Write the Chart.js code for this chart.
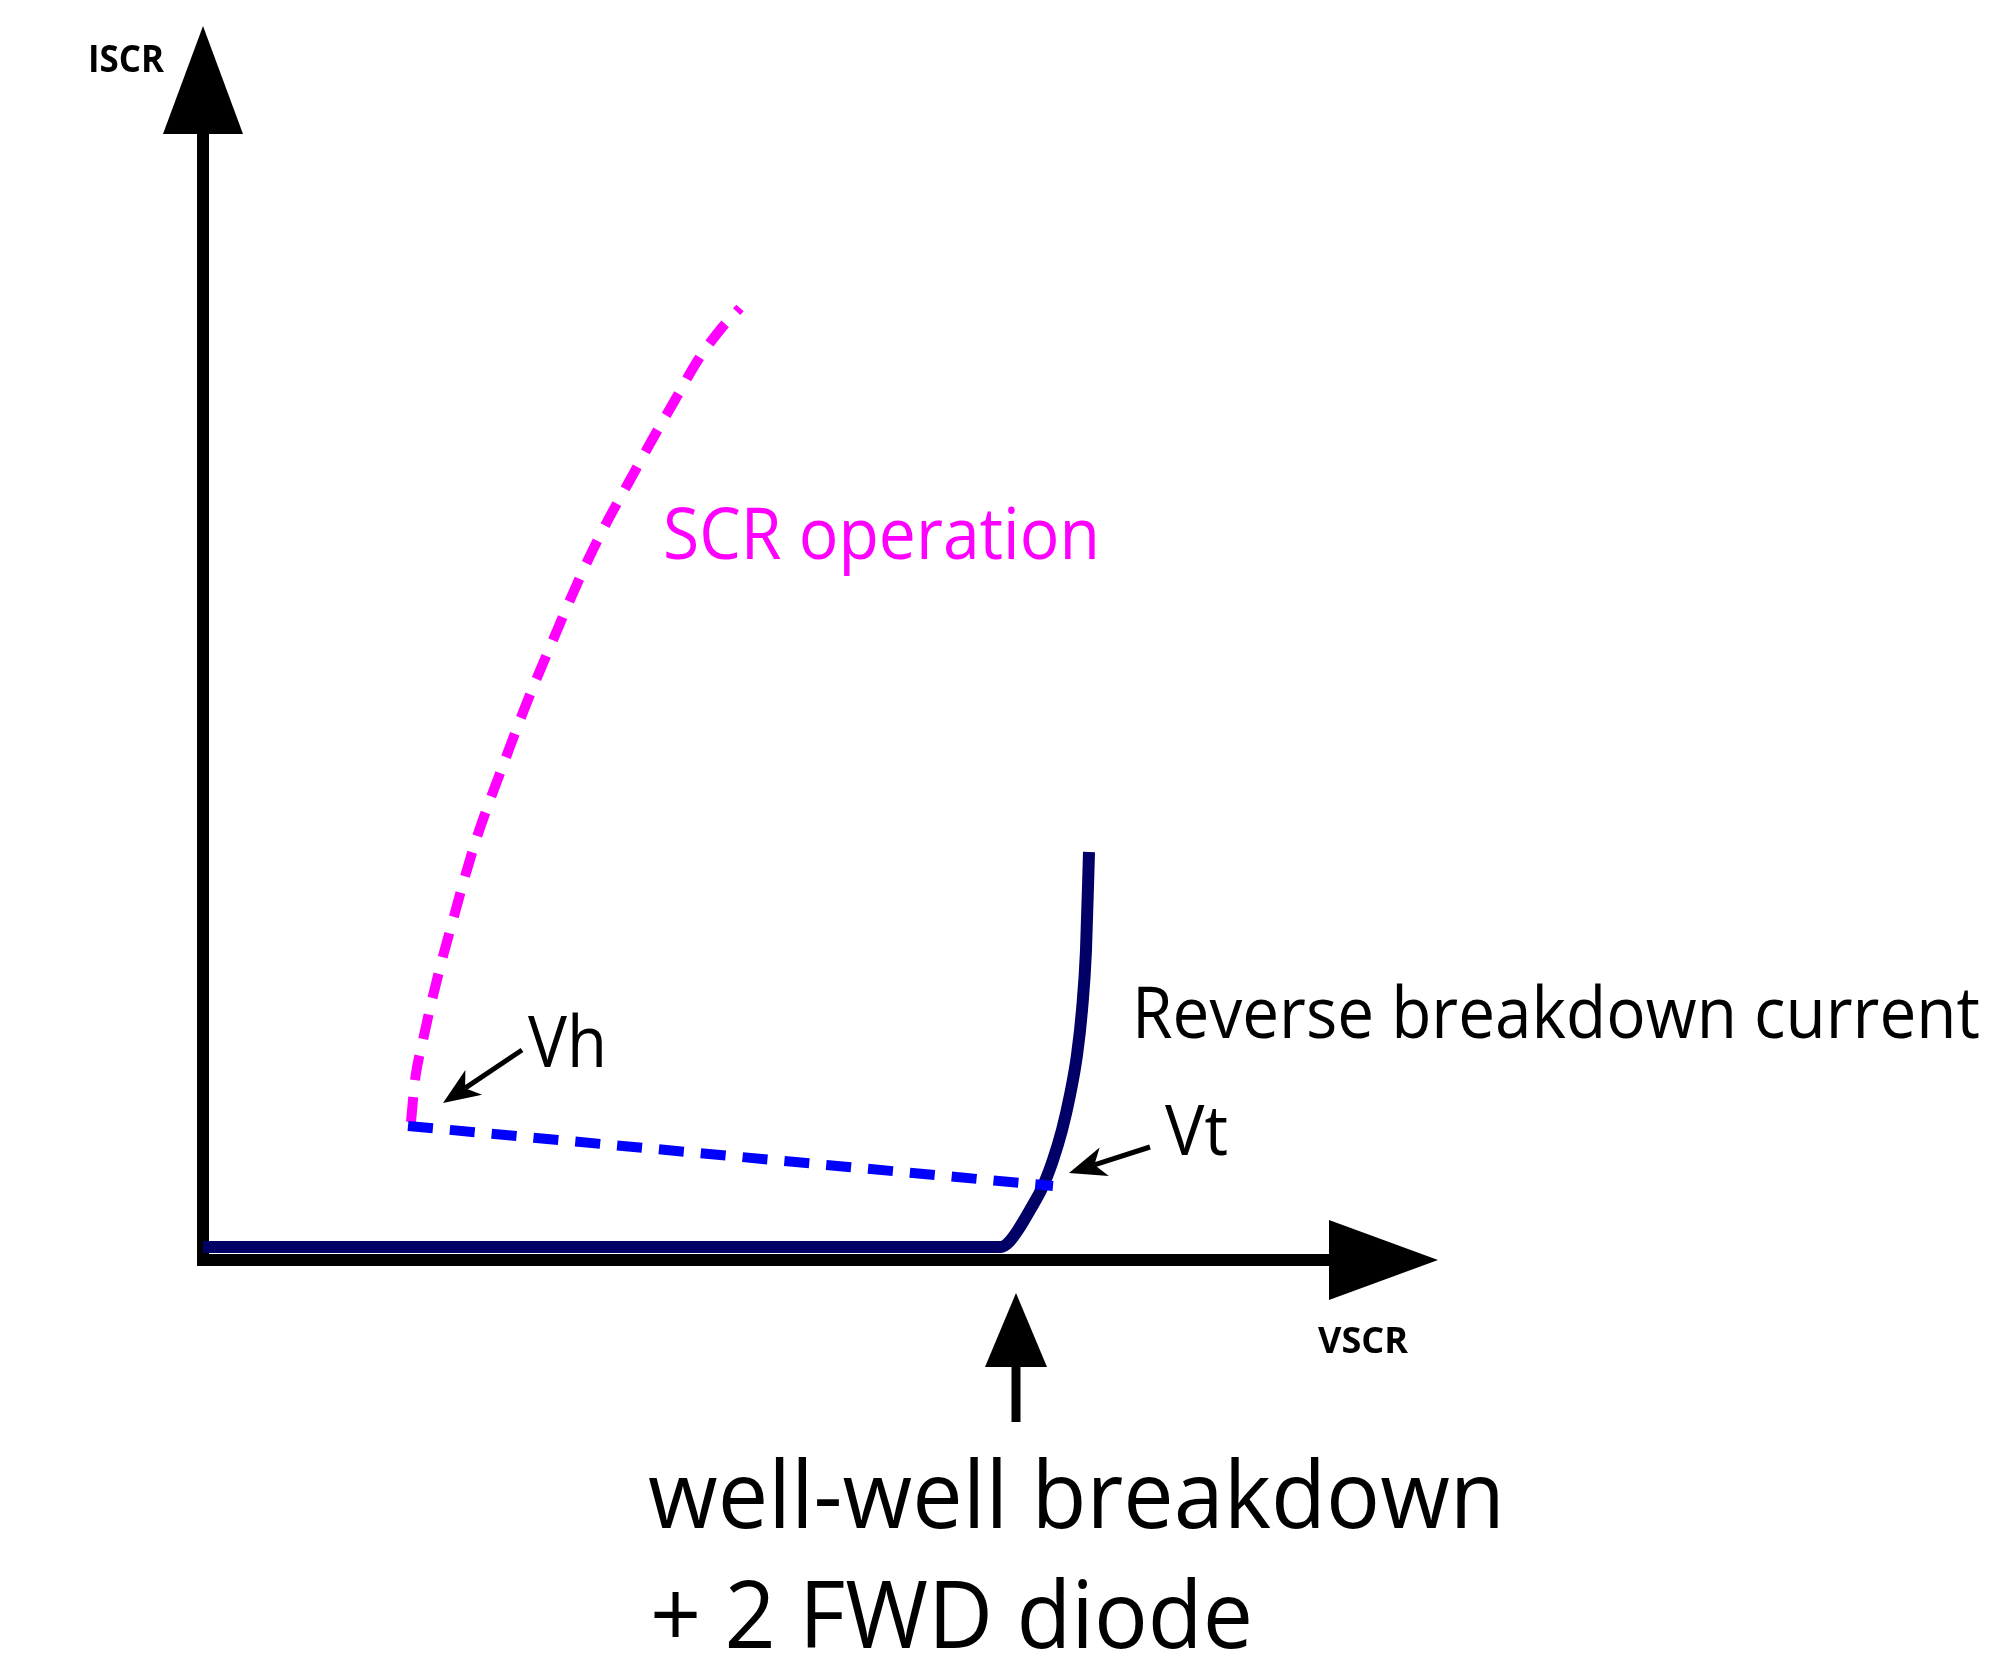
<!DOCTYPE html>
<html><head><meta charset="utf-8">
<script src="https://cdn.jsdelivr.net/npm/chart.js@4/dist/chart.umd.min.js"></script>
<style>html,body{margin:0;padding:0;background:#fff}#wrap{width:1999px;height:1669px;position:relative}</style>
</head><body><div id="wrap"><canvas id="c"></canvas></div>
<script>
// ---- Data (arbitrary units: VSCR horizontal, ISCR vertical) ----
const reverseV = [0.00, 7.98, 8.06, 8.15, 8.27, 8.40, 8.50, 8.59, 8.67, 8.74, 8.79, 8.83, 8.86];
const reverseI = [0.13, 0.13, 0.18, 0.30, 0.50, 0.74, 1.00, 1.30, 1.65, 2.05, 2.50, 3.10, 4.08];

const scrV = [2.08, 2.12, 2.20, 2.29, 2.39, 2.50, 2.61, 2.73, 2.87, 3.02, 3.17, 3.33, 3.50, 3.67, 3.85, 4.05, 4.27, 4.49, 4.72, 4.95, 5.17, 5.37];
const scrI = [1.38, 1.80, 2.20, 2.60, 3.00, 3.40, 3.80, 4.20, 4.60, 5.00, 5.40, 5.80, 6.20, 6.60, 7.00, 7.40, 7.80, 8.20, 8.60, 9.00, 9.30, 9.52];

const snapV = [2.05, 8.50];   // Vh -> Vt snapback
const snapI = [1.34, 0.74];

const axisTitles = ['VSCR', 'ISCR'];
const labelTexts = ['SCR operation', 'Reverse breakdown current', 'Vh', 'Vt', 'well-well breakdown', '+ 2 FWD diode'];

// ---- build datasets ----
const pts = (xs, ys) => xs.map((v, i) => ({x: v, y: ys[i]}));

// annotation anchors (data units)
const ann = {
  xAxis: {from: -0.06, tip: 12.35, base: 11.26, half: 0.40},
  yAxis: {from: -0.06, tip: 12.34, base: 11.26, half: 0.40},
  vhArrow: {from: [3.19, 2.10], to: [2.40, 1.57]},
  vtArrow: {from: [9.47, 1.13], to: [8.66, 0.87]},
  wellArrow: {from: [8.13, -1.62], to: [8.13, -0.33], base: -1.07, half: 0.31},
  text: {
    ISCR: [-1.15, 11.88],
    VSCR: [11.15, -0.93],
    scr: [4.60, 7.01],
    rev: [9.29, 2.22],
    vh: [3.25, 1.93],
    vt: [9.62, 1.05],
    w1: [4.45, -2.68],
    w2: [4.47, -3.88]
  }
};

const FONT = '"Open Sans", "Noto Sans", sans-serif';

const overlay = {
  id: 'overlay',
  beforeDatasetsDraw(chart) {
    const {ctx, scales: {x, y}} = chart;
    const X = v => x.getPixelForValue(v), Y = v => y.getPixelForValue(v);
    ctx.save();
    ctx.fillStyle = '#000'; ctx.strokeStyle = '#000';
    ctx.lineWidth = 12; ctx.lineCap = 'butt';
    // x axis
    ctx.beginPath(); ctx.moveTo(X(ann.xAxis.from), Y(0)); ctx.lineTo(X(ann.xAxis.base) + 2, Y(0)); ctx.stroke();
    ctx.beginPath();
    ctx.moveTo(X(ann.xAxis.tip), Y(0));
    ctx.lineTo(X(ann.xAxis.base), Y(ann.xAxis.half));
    ctx.lineTo(X(ann.xAxis.base), Y(-ann.xAxis.half));
    ctx.closePath(); ctx.fill();
    // y axis
    ctx.beginPath(); ctx.moveTo(X(0), Y(ann.yAxis.from)); ctx.lineTo(X(0), Y(ann.yAxis.base) - 2); ctx.stroke();
    ctx.beginPath();
    ctx.moveTo(X(0), Y(ann.yAxis.tip));
    ctx.lineTo(X(-ann.yAxis.half), Y(ann.yAxis.base));
    ctx.lineTo(X(ann.yAxis.half), Y(ann.yAxis.base));
    ctx.closePath(); ctx.fill();
    ctx.restore();
  },
  afterDatasetsDraw(chart) {
    const {ctx, scales: {x, y}} = chart;
    const X = v => x.getPixelForValue(v), Y = v => y.getPixelForValue(v);
    ctx.save();
    // barbed arrows
    const barb = (a, lw, len, half) => {
      const x0 = X(a.from[0]), y0 = Y(a.from[1]), x1 = X(a.to[0]), y1 = Y(a.to[1]);
      const dx = x1 - x0, dy = y1 - y0, L = Math.hypot(dx, dy);
      const ux = dx / L, uy = dy / L, nx = -uy, ny = ux;
      const bx = x1 - ux * len, by = y1 - uy * len;
      const nxp = x1 - ux * len * 0.72, nyp = y1 - uy * len * 0.72;
      ctx.strokeStyle = '#000'; ctx.fillStyle = '#000'; ctx.lineWidth = lw;
      ctx.beginPath(); ctx.moveTo(x0, y0); ctx.lineTo(nxp, nyp); ctx.stroke();
      ctx.beginPath();
      ctx.moveTo(x1, y1);
      ctx.lineTo(bx + nx * half, by + ny * half);
      ctx.lineTo(nxp, nyp);
      ctx.lineTo(bx - nx * half, by - ny * half);
      ctx.closePath(); ctx.fill();
    };
    barb(ann.vhArrow, 5, 37, 15);
    barb(ann.vtArrow, 5, 37, 15);
    // well-well arrow
    const w = ann.wellArrow;
    ctx.fillStyle = '#000'; ctx.strokeStyle = '#000'; ctx.lineWidth = 9;
    ctx.beginPath(); ctx.moveTo(X(w.from[0]), Y(w.from[1])); ctx.lineTo(X(w.to[0]), Y(w.base) - 2); ctx.stroke();
    ctx.beginPath();
    ctx.moveTo(X(w.to[0]), Y(w.to[1]));
    ctx.lineTo(X(w.to[0] - w.half), Y(w.base));
    ctx.lineTo(X(w.to[0] + w.half), Y(w.base));
    ctx.closePath(); ctx.fill();

    // texts
    ctx.textAlign = 'left'; ctx.textBaseline = 'alphabetic';
    const t = (s, p, font, color, maxW) => {
      ctx.font = font; ctx.fillStyle = color;
      ctx.fillText(s, X(p[0]), Y(p[1]), maxW);
    };
    const T = ann.text;
    t(axisTitles[1], T.ISCR, 'bold 37px ' + FONT, '#000', 76);
    t(axisTitles[0], T.VSCR, 'bold 36px ' + FONT, '#000', 91);
    t(labelTexts[0], T.scr, '71px ' + FONT, '#ff00ff', 437);
    t(labelTexts[1], T.rev, '71px ' + FONT, '#000', 848);
    t(labelTexts[2], T.vh, '72px ' + FONT, '#000', 79);
    t(labelTexts[3], T.vt, '70px ' + FONT, '#000', 63);
    t(labelTexts[4], T.w1, '93px ' + FONT, '#000', 857);
    t(labelTexts[5], T.w2, '93px ' + FONT, '#000', 603);
    ctx.restore();
  }
};

new Chart(document.getElementById('c'), {
  type: 'scatter',
  data: {
    datasets: [
      {label: 'Snapback', data: pts(snapV, snapI), showLine: true, borderColor: '#0000ff', borderWidth: 10,
       borderDash: [25, 17], pointRadius: 0, fill: false, clip: false},
      {label: 'SCR operation', data: pts(scrV, scrI), showLine: true, borderColor: '#ff00ff', borderWidth: 10,
       borderDash: [25, 17], pointRadius: 0, cubicInterpolationMode: 'monotone', fill: false, clip: false},
      {label: 'Reverse breakdown current', data: pts(reverseV, reverseI), showLine: true, borderColor: '#000066',
       borderWidth: 12, pointRadius: 0, cubicInterpolationMode: 'monotone', fill: false, clip: false}
    ]
  },
  options: {
    responsive: true, maintainAspectRatio: false, animation: false,
    layout: {padding: {left: 203, right: 596, top: 60, bottom: 409}},
    scales: {
      x: {type: 'linear', min: 0, max: 12, display: false},
      y: {type: 'linear', min: 0, max: 12, display: false}
    },
    plugins: {legend: {display: false}, tooltip: {enabled: false}, title: {display: false}}
  },
  plugins: [overlay]
});
</script>
</body></html>
